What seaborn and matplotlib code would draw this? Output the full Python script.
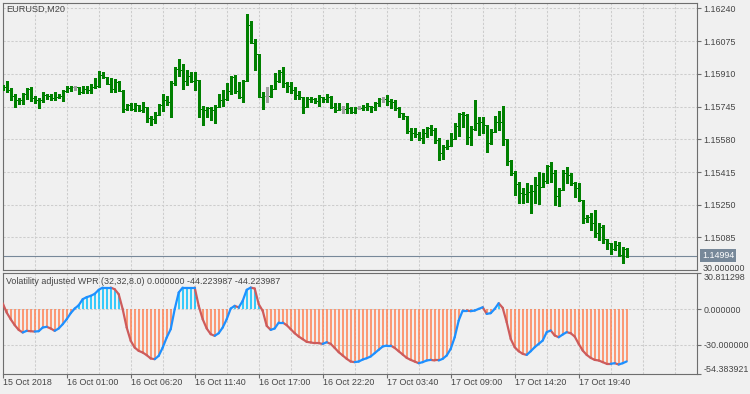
import numpy as np
import pandas as pd
import matplotlib
matplotlib.use("Agg")
import matplotlib.pyplot as plt
import matplotlib.transforms as mtransforms
import seaborn as sns

# ---------------- data (EURUSD M20 bars) ----------------
first_open = 1.15836
highs = [1.15854, 1.15874, 1.15837, 1.15807, 1.15787, 1.15812, 1.15837, 1.15843, 1.15800, 1.15787,
         1.15820, 1.15810, 1.15807, 1.15820, 1.15807, 1.15830, 1.15850, 1.15847, 1.15850, 1.15843,
         1.15847, 1.15847, 1.15857, 1.15887, 1.15924, 1.15918, 1.15894, 1.15887, 1.15884, 1.15874,
         1.15827, 1.15759, 1.15761, 1.15761, 1.15753, 1.15768, 1.15744, 1.15697, 1.15716, 1.15756,
         1.15807, 1.15800, 1.15875, 1.15946, 1.15985, 1.15958, 1.15929, 1.15921, 1.15919, 1.15879,
         1.15748, 1.15744, 1.15741, 1.15753, 1.15807, 1.15828, 1.15862, 1.15899, 1.15902, 1.15870,
         1.15879, 1.16211, 1.16178, 1.16084, 1.16010, 1.15820, 1.15842, 1.15854, 1.15916, 1.15929,
         1.15943, 1.15870, 1.15870, 1.15845, 1.15825, 1.15787, 1.15792, 1.15795, 1.15787, 1.15803,
         1.15792, 1.15807, 1.15797, 1.15761, 1.15761, 1.15748, 1.15761, 1.15744, 1.15744, 1.15748,
         1.15753, 1.15761, 1.15748, 1.15769, 1.15787, 1.15795, 1.15803, 1.15781, 1.15778, 1.15744,
         1.15711, 1.15697, 1.15635, 1.15635, 1.15618, 1.15630, 1.15643, 1.15652, 1.15635, 1.15585,
         1.15551, 1.15576, 1.15610, 1.15664, 1.15714, 1.15719, 1.15707, 1.15647, 1.15778, 1.15691,
         1.15691, 1.15652, 1.15630, 1.15697, 1.15724, 1.15748, 1.15581, 1.15476, 1.15422, 1.15366,
         1.15333, 1.15358, 1.15350, 1.15391, 1.15417, 1.15409, 1.15450, 1.15467, 1.15425, 1.15333,
         1.15425, 1.15442, 1.15409, 1.15366, 1.15358, 1.15274, 1.15198, 1.15207, 1.15224, 1.15157,
         1.15148, 1.15076, 1.15059, 1.15069, 1.15064, 1.15036, 1.15031]
lows = [1.15828, 1.15820, 1.15778, 1.15744, 1.15756, 1.15756, 1.15781, 1.15773, 1.15764, 1.15739,
        1.15769, 1.15781, 1.15778, 1.15778, 1.15787, 1.15773, 1.15820, 1.15823, 1.15827, 1.15810,
        1.15813, 1.15813, 1.15813, 1.15840, 1.15843, 1.15887, 1.15860, 1.15820, 1.15820, 1.15823,
        1.15716, 1.15726, 1.15728, 1.15724, 1.15723, 1.15719, 1.15669, 1.15652, 1.15664, 1.15719,
        1.15724, 1.15753, 1.15694, 1.15854, 1.15900, 1.15832, 1.15854, 1.15870, 1.15828, 1.15691,
        1.15652, 1.15694, 1.15677, 1.15664, 1.15741, 1.15748, 1.15778, 1.15808, 1.15812, 1.15788,
        1.15766, 1.15875, 1.16064, 1.15929, 1.15795, 1.15731, 1.15769, 1.15795, 1.15832, 1.15870,
        1.15845, 1.15820, 1.15812, 1.15785, 1.15781, 1.15711, 1.15744, 1.15769, 1.15761, 1.15748,
        1.15769, 1.15769, 1.15736, 1.15719, 1.15728, 1.15711, 1.15714, 1.15714, 1.15711, 1.15731,
        1.15728, 1.15728, 1.15719, 1.15728, 1.15748, 1.15769, 1.15753, 1.15736, 1.15728, 1.15694,
        1.15681, 1.15613, 1.15576, 1.15593, 1.15576, 1.15563, 1.15593, 1.15602, 1.15563, 1.15476,
        1.15479, 1.15530, 1.15563, 1.15613, 1.15597, 1.15643, 1.15556, 1.15551, 1.15627, 1.15602,
        1.15610, 1.15517, 1.15556, 1.15623, 1.15627, 1.15551, 1.15450, 1.15400, 1.15299, 1.15257,
        1.15257, 1.15265, 1.15207, 1.15257, 1.15254, 1.15341, 1.15358, 1.15366, 1.15249, 1.15244,
        1.15324, 1.15358, 1.15350, 1.15291, 1.15271, 1.15157, 1.15165, 1.15123, 1.15089, 1.15072,
        1.15059, 1.15026, 1.15002, 1.15022, 1.14992, 1.14955, 1.14985]
closes = [1.15842, 1.15830, 1.15800, 1.15776, 1.15780, 1.15807, 1.15832, 1.15787, 1.15779, 1.15776,
          1.15803, 1.15800, 1.15790, 1.15793, 1.15797, 1.15823, 1.15840, 1.15843, 1.15843, 1.15820,
          1.15833, 1.15827, 1.15843, 1.15850, 1.15904, 1.15894, 1.15860, 1.15833, 1.15867, 1.15823,
          1.15733, 1.15753, 1.15733, 1.15754, 1.15728, 1.15741, 1.15686, 1.15680, 1.15704, 1.15751,
          1.15778, 1.15768, 1.15864, 1.15936, 1.15930, 1.15874, 1.15897, 1.15874, 1.15879, 1.15733,
          1.15728, 1.15736, 1.15728, 1.15744, 1.15778, 1.15781, 1.15825, 1.15892, 1.15825, 1.15792,
          1.15875, 1.16156, 1.16064, 1.16010, 1.15795, 1.15800, 1.15800, 1.15832, 1.15875, 1.15921,
          1.15865, 1.15849, 1.15828, 1.15803, 1.15792, 1.15741, 1.15785, 1.15781, 1.15774, 1.15792,
          1.15781, 1.15795, 1.15741, 1.15728, 1.15731, 1.15731, 1.15736, 1.15719, 1.15739, 1.15739,
          1.15743, 1.15748, 1.15741, 1.15761, 1.15781, 1.15781, 1.15774, 1.15770, 1.15736, 1.15711,
          1.15697, 1.15623, 1.15610, 1.15607, 1.15585, 1.15610, 1.15635, 1.15627, 1.15576, 1.15512,
          1.15540, 1.15545, 1.15580, 1.15647, 1.15707, 1.15702, 1.15590, 1.15630, 1.15661, 1.15666,
          1.15652, 1.15563, 1.15618, 1.15666, 1.15669, 1.15580, 1.15472, 1.15412, 1.15355, 1.15311,
          1.15306, 1.15316, 1.15321, 1.15350, 1.15341, 1.15371, 1.15445, 1.15412, 1.15294, 1.15324,
          1.15412, 1.15400, 1.15358, 1.15333, 1.15274, 1.15182, 1.15186, 1.15157, 1.15109, 1.15136,
          1.15076, 1.15059, 1.15026, 1.15047, 1.14997, 1.15026, 1.14994]

wpr = [4.9, -3.0, -8.6, -13.6, -17.6, -19.8, -18.4, -18.7, -19.0, -18.7,
       -15.6, -15.0, -16.4, -18.4, -16.4, -12.8, -8.6, -3.5, 0.4, 3.2,
       8.3, 10.0, 11.1, 12.8, 16.2, 18.1, 18.1, 18.1, 16.7, 12.5,
       -0.1, -15.6, -26.8, -32.5, -35.3, -36.7, -38.9, -41.7, -42.3, -39.5,
       -32.5, -24.0, -17.0, -0.1, 13.9, 18.1, 18.1, 18.1, 18.1, 2.7,
       -8.6, -16.4, -21.2, -22.6, -20.4, -15.6, -8.6, 0.4, 2.7, 1.3,
       6.9, 16.2, 18.1, 17.3, 4.1, -1.5, -14.2, -17.6, -16.4, -11.4,
       -11.4, -13.6, -17.0, -20.4, -23.2, -25.4, -27.7, -28.2, -28.8, -28.8,
       -29.4, -28.0, -29.4, -32.8, -36.4, -39.2, -42.0, -44.3, -44.8, -44.3,
       -42.6, -41.5, -40.0, -37.2, -34.4, -31.6, -30.8, -30.8, -32.8, -35.6,
       -38.4, -41.2, -42.9, -44.3, -45.7, -44.8, -43.4, -42.9, -43.4, -43.4,
       -42.0, -39.2, -33.6, -23.8, -9.7, -1.3, -1.3, -1.8, -1.3, 0.1,
       1.5, -4.1, -3.5, 0.1, 4.9, 1.0, -11.1, -25.2, -32.2, -35.6,
       -37.8, -38.7, -35.6, -32.2, -29.4, -26.6, -19.5, -18.1, -22.3, -23.8,
       -21.5, -19.5, -20.4, -23.2, -29.4, -35.0, -38.7, -41.2, -42.9, -43.4,
       -44.8, -46.2, -46.2, -45.7, -46.8, -45.7, -44.22]

price_levels = [1.16240, 1.16075, 1.15910, 1.15745, 1.15580, 1.15415, 1.15250, 1.15085]
current_price = 1.14994
time_tick_bars = [0, 16, 32, 48, 64, 80, 96, 112, 128, 144]
time_labels = ["15 Oct 2018", "16 Oct 01:00", "16 Oct 06:20", "16 Oct 11:40", "16 Oct 17:00",
               "16 Oct 22:20", "17 Oct 03:40", "17 Oct 09:00", "17 Oct 14:20", "17 Oct 19:40"]
wpr_ticks = [30.811298, 0.0, -30.0, -54.383921]
wpr_tick_labels = ["30.811298", "0.000000", "-30.000000", "-54.383921"]
wpr_extra_level = 30.0
title_main = "EURUSD,M20"
title_ind = "Volatility adjusted WPR (32,32,8.0) 0.000000 -44.223987 -44.223987"

# ---------------- style ----------------
sns.set_theme(style="white")
plt.rcParams["font.family"] = ["Liberation Sans", "DejaVu Sans"]
BG = "#F0F0F0"
SPINE = "#6E6E6E"
TXT = "#454545"
GRID = "#CDCDCD"
FS = 6.4
GREEN = "#008000"
DOJI = "#A0A0A0"

W, H = 750, 394
fig = plt.figure(figsize=(W / 100, H / 100), dpi=100, facecolor=BG)


def rect(x0, y0, x1, y1):
    return [x0 / W, 1 - y1 / H, (x1 - x0) / W, (y1 - y0) / H]


ax = fig.add_axes(rect(2.5, 2.5, 697, 269.5))
ax2 = fig.add_axes(rect(2.5, 272.5, 697, 373.5))

n = len(closes)
x = np.arange(n)
c = np.array(closes)
o = np.r_[first_open, c[:-1]]
hi = np.maximum(np.array(highs), np.maximum(o, c))
lo = np.minimum(np.array(lows), np.minimum(o, c))
cols = [DOJI if abs(oo - cc) < 1e-9 else GREEN for oo, cc in zip(o, c)]

xl = (-0.05, 173.575)
grid_bars = np.arange(0, 174, 8)

for a in (ax, ax2):
    a.set_facecolor(BG)
    for s in a.spines.values():
        s.set_color(SPINE)
        s.set_linewidth(0.8)
    a.set_xlim(*xl)

# ---------------- main price panel ----------------
ax.set_ylim(1.149237, 1.162694)
ax.set_xticks(grid_bars)
ax.set_yticks(price_levels)
ax.set_yticklabels([f"{p:.5f}" for p in price_levels])
ax.yaxis.tick_right()
ax.tick_params(axis="y", which="major", right=True, left=False, length=3, width=0.8,
               color=SPINE, pad=1.5, labelsize=FS, labelcolor=TXT)
ax.tick_params(axis="x", bottom=False, labelbottom=False)
ax.grid(True, ls=(0, (2.2, 1.6)), color=GRID, lw=0.75)
ax.set_axisbelow(True)

ax.vlines(x, lo, hi, colors=cols, lw=0.75, antialiased=False, zorder=3)
ax.hlines(o, x - 0.36, x, colors=cols, lw=0.72, antialiased=False, zorder=3)
ax.hlines(c, x, x + 0.36, colors=cols, lw=0.72, antialiased=False, zorder=3)

ax.axhline(current_price, color="#778899", lw=0.8, zorder=2)
ax.text((702 - 2.5) / 694.5, current_price, f"{current_price:.5f}",
        transform=mtransforms.blended_transform_factory(ax.transAxes, ax.transData),
        ha="left", va="center", fontsize=FS, color="white", clip_on=False,
        bbox=dict(boxstyle="square,pad=0.18", fc="#778899", ec="none"))
ax.text((6 - 2.5) / 694.5, 1 - (9.5 - 2.5) / 267, title_main, transform=ax.transAxes,
        ha="left", va="center", fontsize=FS + 0.2, color=TXT)

# ---------------- indicator panel ----------------
ax2.set_ylim(-54.383921, 30.811298)
ax2.set_yticks(wpr_ticks)
ax2.set_yticklabels(wpr_tick_labels)
ax2.yaxis.tick_right()
ax2.tick_params(axis="y", right=True, left=False, length=3, width=0.8, color=SPINE,
                pad=1.5, labelsize=FS, labelcolor=TXT)
ylabs = ax2.get_yticklabels()
ylabs[0].set_va("top")
ylabs[-1].set_va("bottom")
ax2.text((703 - 2.5) / 694.5, 33.8, f"{wpr_extra_level:.6f}",
         transform=mtransforms.blended_transform_factory(ax2.transAxes, ax2.transData),
         ha="left", va="center", fontsize=FS, color=TXT, clip_on=False)

ax2.set_xticks(time_tick_bars)
ax2.set_xticklabels(time_labels, ha="left")
ax2.set_xticks(grid_bars, minor=True)
ax2.tick_params(axis="x", which="major", bottom=True, length=3, width=0.8, color=SPINE,
                pad=0.3, labelsize=FS, labelcolor=TXT)
ax2.tick_params(axis="x", which="minor", bottom=False, length=0)
ax2.grid(True, which="both", axis="x", ls=(0, (2.2, 1.6)), color=GRID, lw=0.75)
ax2.grid(True, which="major", axis="y", ls=(0, (2.2, 1.6)), color=GRID, lw=0.75)
ax2.set_axisbelow(True)

v = np.array(wpr)
hcols = ["#00BFFF" if val > 0 else "#FF7F50" for val in v]
ax2.vlines(x, 0, v, colors=hcols, lw=1.1, zorder=2)

# slope-coloured line via seaborn (one unit per segment)
rows = []
prev = "down"
for k in range(n - 1):
    d = v[k + 1] - v[k]
    dirn = "up" if d > 0 else ("down" if d < 0 else prev)
    prev = dirn
    rows.append({"bar": k, "value": v[k], "seg": k, "dir": dirn})
    rows.append({"bar": k + 1, "value": v[k + 1], "seg": k, "dir": dirn})
df = pd.DataFrame(rows)
sns.lineplot(data=df, x="bar", y="value", hue="dir", units="seg", estimator=None,
             palette={"up": "#1E90FF", "down": "#CD5C5C"}, lw=1.6, legend=False,
             ax=ax2, zorder=4)
ax2.set_xlabel("")
ax2.set_ylabel("")
ax2.set_xlim(*xl)
ax2.set_ylim(-54.383921, 30.811298)

ax2.text((6 - 2.5) / 694.5, (373.5 - 282) / 101, title_ind, transform=ax2.transAxes,
         ha="left", va="center", fontsize=FS, color=TXT, zorder=6)

fig.savefig("out.png", dpi=100, facecolor=BG)
